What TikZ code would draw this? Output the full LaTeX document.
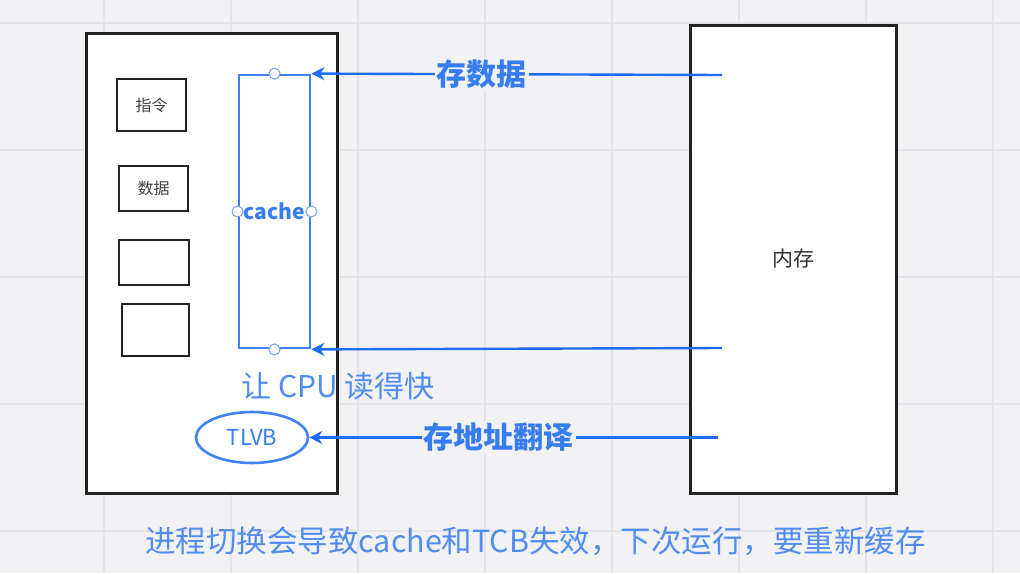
\documentclass[tikz,border=0pt]{standalone}
\usepackage{fontspec}
\setmainfont{Noto Sans CJK SC}
\usepackage{xcolor}
\usepackage{tikz}
\usetikzlibrary{arrows.meta,shapes.geometric}
\definecolor{cBg}{RGB}{242,242,245}
\definecolor{cGrid}{RGB}{229,229,233}
\definecolor{cFrame}{RGB}{34,34,34}
\definecolor{cLine}{RGB}{30,108,245}
\definecolor{cText}{RGB}{55,125,242}
\definecolor{cSoft}{RGB}{80,140,242}
\definecolor{cHandle}{RGB}{110,165,245}

\begin{document}
\begin{tikzpicture}[x=1pt,y=-1pt,
  frame/.style={draw=cFrame,line width=3pt,fill=white,inner sep=0pt},
  regbox/.style={draw=cFrame,line width=2.6pt,fill=white,inner sep=0pt,font=\fontsize{16}{18}\selectfont,text=black!75},
  arr/.style={cLine,line width=2.4pt,-{Stealth[length=13pt,width=13pt]}},
  lbl/.style={fill=cBg,inner sep=2pt,text=cText,font=\fontsize{30}{32}\selectfont\bfseries},
  handle/.style={draw=cHandle,fill=white,line width=1pt}]
  \useasboundingbox (0,0) rectangle (1020,573);
  \fill[cBg] (0,0) rectangle (1020,573);
  \foreach \gx in {104,231,358,485,612,739,866,993}
    \draw[cGrid,line width=1.5pt] (\gx,0) -- (\gx,573);
  \foreach \gy in {23,150,277,404,531}
    \draw[cGrid,line width=1.5pt] (0,\gy) -- (1020,\gy);
  % CPU side and memory
  \node[frame,minimum width=251pt,minimum height=460pt] (cpu) at (211.5,263) {};
  \node[frame,minimum width=206pt,minimum height=468pt,font=\fontsize{21}{24}\selectfont,text=black!80] (mem) at (793,259) {内存};
  \node[regbox,minimum width=69pt,minimum height=52pt] (instr) at (151.5,105) {指令};
  \node[regbox,minimum width=69pt,minimum height=45pt] (data) at (153.5,188.5) {数据};
  \node[regbox,minimum width=70pt,minimum height=45pt] (reg3) at (154,262.5) {};
  \node[regbox,minimum width=67pt,minimum height=52pt] (reg4) at (155.5,330) {};
  \node[draw=cLine!85,line width=2.8pt,minimum width=71pt,minimum height=273pt,inner sep=0pt,text=cText,font=\fontsize{21}{24}\selectfont\bfseries] (cache) at (274.5,211.5) {cache};
  \foreach \h in {north,south,west,east}
    \draw[handle] (cache.\h) circle (5.5pt);
  \node[text=cSoft,font=\fontsize{30}{32}\selectfont] (fast) at (338,386) {让 CPU 读得快};
  \node[draw=cLine!85,line width=2.6pt,ellipse,minimum width=112pt,minimum height=51pt,inner sep=0pt,text=cText,font=\fontsize{22}{24}\selectfont] (tlb) at (252,437.5) {TLVB};
  % arrows from memory
  \coordinate (m1) at (722,75);
  \coordinate (m2) at (722,348);
  \coordinate (m3) at (718,437.5);
  \draw[arr] (m1) -- node[pos=.585,lbl] (store) {存数据} (cache.north east);
  \draw[arr] (m2) -- (cache.south east);
  \draw[arr] (m3) -- node[pos=.537,lbl] (xlate) {存地址翻译} (tlb.east);
  \node[text=cSoft,font=\fontsize{30.5}{33}\selectfont] (note) at (535.5,541) {进程切换会导致cache和TCB失效，下次运行，要重新缓存};
\end{tikzpicture}
\end{document}
